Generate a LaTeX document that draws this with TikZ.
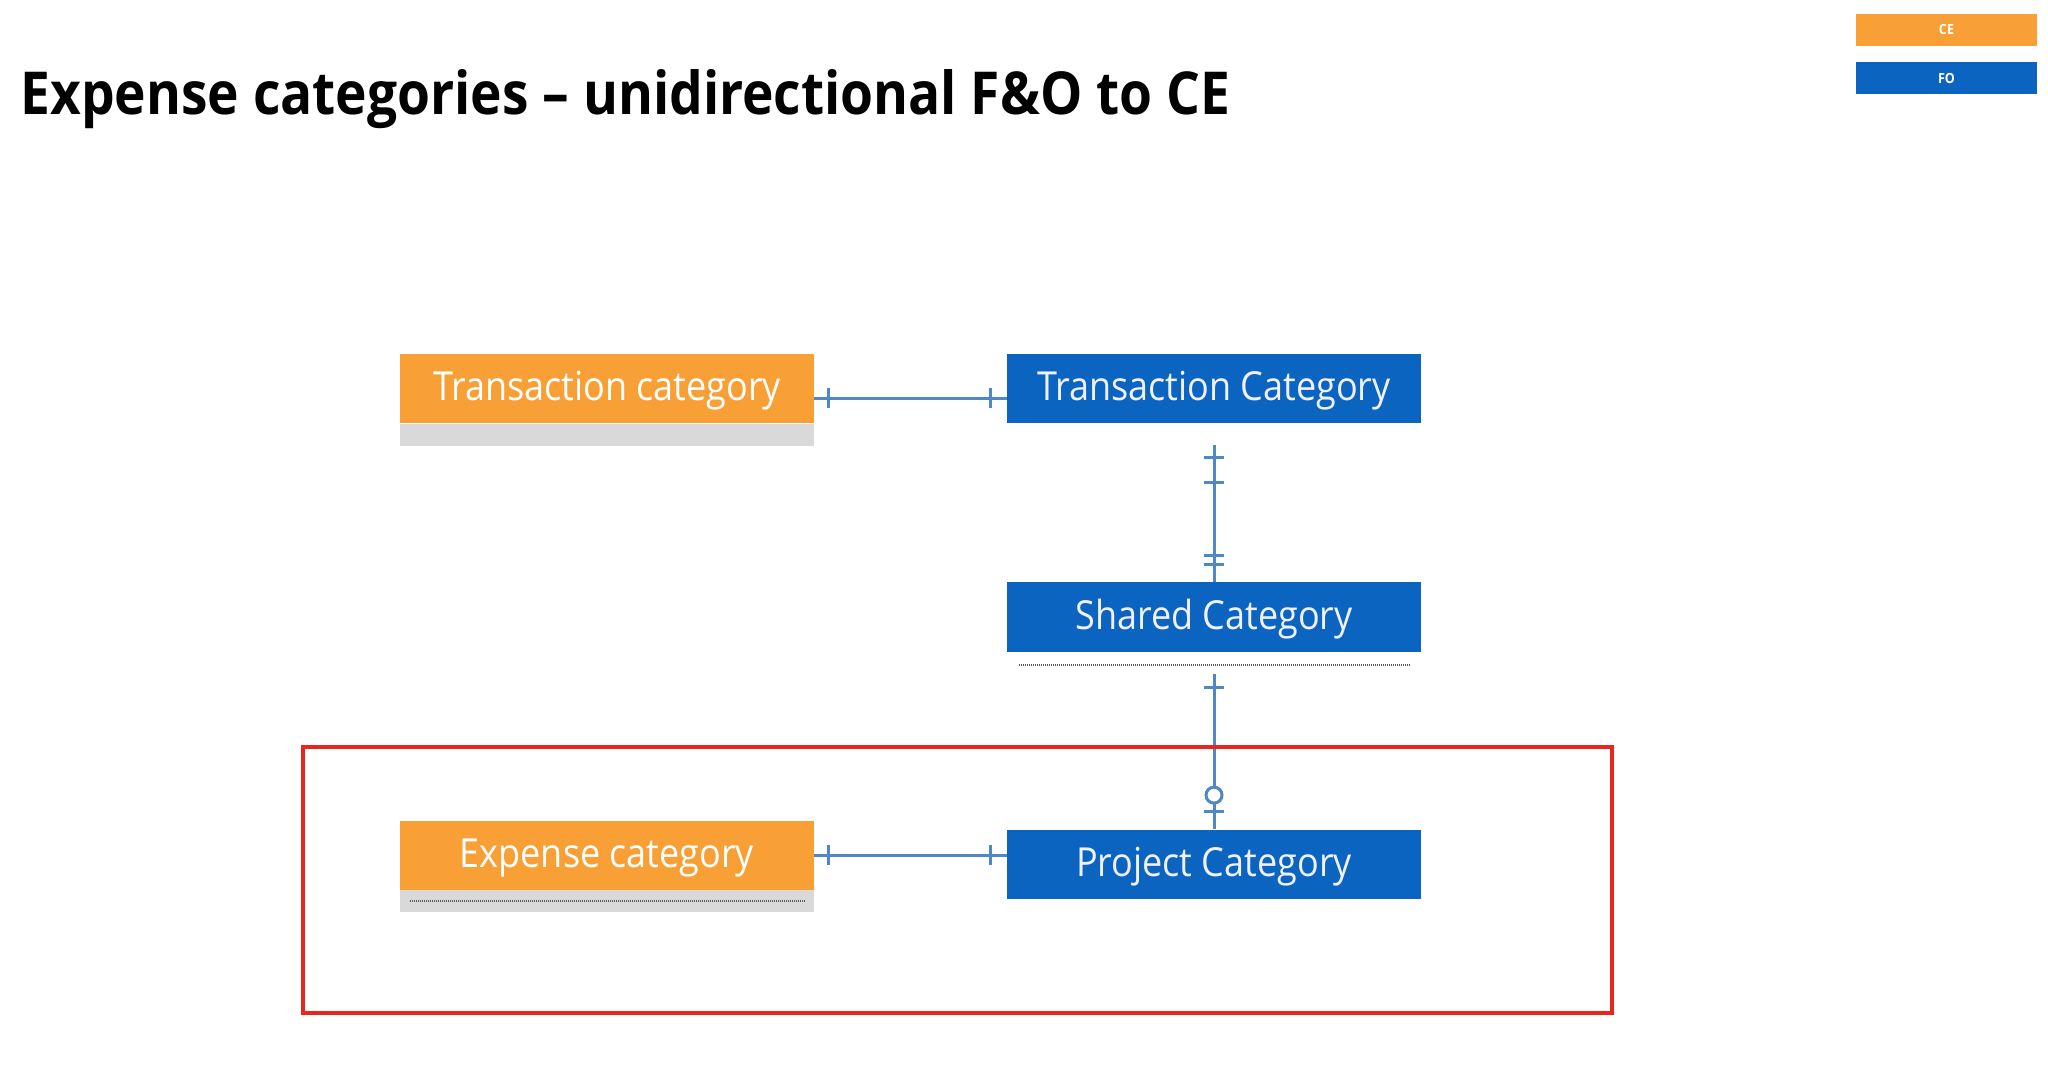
\documentclass[tikz,border=0pt]{standalone}
\usepackage{fontspec}
\setmainfont{Open Sans}[FakeStretch=0.9]
\usetikzlibrary{decorations.markings}

\definecolor{ceorange}{HTML}{F8A036}
\definecolor{foblue}{HTML}{0B64C0}
\definecolor{relblue}{HTML}{4F87C7}
\definecolor{framered}{HTML}{E8261E}
\definecolor{bandgray}{HTML}{D9D9D9}

\tikzset{
  entity/.style={minimum width=207pt,minimum height=34.5pt,inner sep=0pt,
    text height=14pt,text depth=2pt,font=\fontsize{20}{24}\selectfont},
  ce/.style={entity,fill=ceorange,text=white},
  fo/.style={entity,fill=foblue,text=blue!6},
  band/.style={fill=bandgray,minimum width=207pt,minimum height=11pt,inner sep=0pt},
  legend/.style={minimum width=90.5pt,minimum height=16pt,inner sep=0pt,font=\fontsize{7}{8}\selectfont\bfseries,text=white},
  rel/.style={draw=relblue,line width=1.5pt},
  tick/.style={postaction={decorate,decoration={markings,
      mark=at position #1 with {\draw[relblue,line width=1.5pt] (0,-5pt) -- (0,5pt);}}}},
  zeroring/.style={postaction={decorate,decoration={markings,
      mark=at position #1 with {\draw[relblue,line width=1.5pt,fill=white] (0,0) circle (4pt);}}}},
  notedots/.style={draw=gray!70!black,line width=1pt,dash pattern=on 0.5pt off 0.5pt},
}

\begin{document}
\begin{tikzpicture}[x=0.5pt,y=-0.5pt]
    \useasboundingbox (0,0) rectangle (2048,1068);

    % title and legend
    \node[anchor=base west,inner sep=0pt,font=\fontsize{29.6}{36}\selectfont\bfseries] (title) at (20,115)
        {Expense categories -- unidirectional F\&O to CE};
    \node[legend,fill=ceorange] (legce) at (1946.5,30) {CE};
    \node[legend,fill=foblue] (legfo) at (1946.5,78.5) {FO};

    % entities
    \node[ce] (tce) at (607,388.5) {Transaction category};
    \node[band,anchor=north] (tceband) at (tce.south) {};
    \node[fo] (tfo) at (1214,388.5) {Transaction Category};
    \node[fo] (sfo) at (1214,617) {Shared Category};
    \node[ce] (ece) at (607,855) {Expense category};
    \node[band,anchor=north] (eceband) at (ece.south) {};
    \node[fo] (pfo) at (1214,864) {Project Category};

    \draw[notedots] (1019,665) -- (1410,665);
    \draw[notedots] (410,901) -- (805,901);

    % relationships
    \draw[rel,tick=7pt,tick=-8pt] ([yshift=-5pt]tce.east) -- ([yshift=-5pt]tfo.west);
    \draw[rel,tick=6.5pt,tick=19pt,tick=-13.5pt,tick=-9pt] ([yshift=-10.75pt]tfo.south) -- (sfo.north);
    \draw[rel,tick=7pt,zeroring=-17pt,tick=-9pt] ([yshift=-11pt]sfo.south) -- (pfo.north);
    \draw[rel,tick=7pt,tick=-8pt] (ece.east) -- (ece.east -| pfo.west);

    % highlight
    \draw[framered,line width=2pt] (303,747) rectangle (1612,1013);
\end{tikzpicture}
\end{document}
